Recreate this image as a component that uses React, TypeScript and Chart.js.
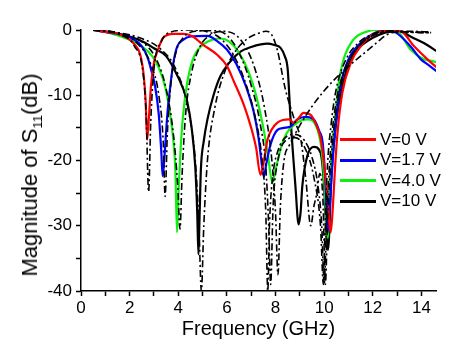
import React, { useEffect, useRef } from 'react';
import { Chart, registerables } from 'chart.js';

Chart.register(...registerables);

// ---- Measured curves ----
const freqRed = [0.5, 1.0, 1.6, 2.2, 2.45, 2.58, 2.66, 2.72, 2.8, 2.88, 3.0, 3.13, 3.38, 3.8, 4.2, 4.6, 5.0, 5.6, 6.0, 6.3, 6.7, 7.0, 7.2, 7.38, 7.5, 7.67, 7.85, 8.08, 8.3, 8.55, 8.75, 8.95, 9.15, 9.45, 9.7, 9.85, 9.98, 10.12, 10.27, 10.36, 10.45, 10.55, 10.75, 11.1, 11.5, 12.0, 12.6, 13.15, 13.7, 14.25, 14.65];
const s11Red = [0, -0.3, -0.7, -2.2, -4, -7, -11, -16.8, -13, -8.5, -5, -3.4, -1.2, -0.6, -0.6, -1.0, -2.2, -3.8, -5.5, -8, -11.5, -15, -18, -22.2, -20.5, -16.8, -15.2, -14.2, -13.8, -13.7, -14.2, -13.5, -12.7, -13, -14.8, -16.5, -19.9, -25, -31, -27, -21, -15.7, -9.6, -5, -2.5, -0.7, -0.1, -0.2, -2.5, -4.5, -5.8];

const freqBlue = [0.5, 1.2, 2.0, 2.5, 2.72, 2.9, 3.05, 3.2, 3.3, 3.36, 3.44, 3.55, 3.67, 3.8, 3.96, 4.2, 4.5, 5.2, 5.6, 6.0, 6.4, 6.8, 7.1, 7.3, 7.45, 7.52, 7.62, 7.8, 8.08, 8.35, 8.62, 8.9, 9.24, 9.57, 9.8, 9.94, 10.05, 10.15, 10.25, 10.35, 10.5, 10.7, 11.0, 11.5, 12.0, 12.5, 12.95, 13.55, 13.98, 14.27, 14.65];
const s11Blue = [0, -0.4, -1.1, -2.5, -4, -6.3, -8.7, -13, -18.5, -22.4, -19, -13, -8.7, -5, -2.5, -1.5, -1.0, -0.9, -1.7, -3, -5.3, -8.8, -12.5, -16.5, -21, -22.5, -20.5, -17.5, -15.3, -15, -14.8, -13.7, -13.3, -13.7, -15.5, -17.3, -23, -31, -26, -20, -13.5, -8, -4.5, -2, -0.6, -0.1, -0.4, -2.5, -4.5, -5.3, -6.4];

const freqGreen = [0.5, 1.2, 2.0, 2.5, 2.93, 3.2, 3.46, 3.65, 3.8, 3.88, 3.95, 4.02, 4.1, 4.2, 4.35, 4.6, 5.0, 5.4, 5.73, 6.1, 6.5, 6.9, 7.2, 7.5, 7.7, 7.87, 8.0, 8.33, 8.9, 9.32, 9.73, 9.9, 10.02, 10.14, 10.25, 10.4, 10.6, 10.8, 11.2, 11.8, 12.2, 13.0, 13.55, 14.1, 14.5, 14.65];
const s11Green = [0, -0.5, -1.5, -2.5, -4, -5.8, -8.7, -12.5, -17, -21.4, -31, -24, -18, -13, -8.5, -4.5, -2.3, -1.5, -1.3, -1.8, -3.5, -6.5, -10, -15, -19.5, -23.4, -21.4, -16.8, -14.2, -13.7, -15.3, -18.5, -24, -32, -23, -15.7, -8.1, -4.5, -1.5, -0.2, 0, -0.2, -3, -4.5, -4.8, -5];

const freqBlack = [0.5, 1.3, 2.0, 2.55, 3.0, 3.5, 3.9, 4.2, 4.37, 4.55, 4.7, 4.78, 4.83, 4.88, 4.93, 5.05, 5.2, 5.45, 5.73, 6.1, 6.56, 7.0, 7.4, 7.67, 7.95, 8.2, 8.38, 8.5, 8.62, 8.72, 8.82, 8.95, 9.03, 9.1, 9.3, 9.57, 9.85, 10.0, 10.08, 10.16, 10.3, 10.5, 10.75, 11.1, 11.5, 12.0, 12.5, 13.15, 13.55, 14.1, 14.65];
const s11Black = [0, -0.4, -1.0, -1.8, -2.8, -4, -6.5, -9, -11, -15, -21, -28, -34.4, -28, -21.4, -17, -13.7, -10, -7.1, -5, -3.3, -2.6, -2.2, -2.1, -2.3, -2.7, -4, -6, -13.7, -19, -24, -29.8, -28, -24, -19.4, -17.9, -18.8, -24, -30, -33.7, -22, -14, -8.5, -4.5, -2.5, -1.2, -0.4, -0.2, -1.0, -2.0, -3.3];

// ---- Simulated curves (dash-dot) ----
const freqSimA = [0.5, 1.5, 2.2, 2.55, 2.68, 2.78, 2.87, 3.0, 3.3, 3.7, 4.5, 5.3, 5.8, 6.3, 6.8, 7.2, 7.45, 7.6, 7.68, 7.76, 7.9, 8.1, 8.4, 8.8, 9.2, 9.5, 9.75, 9.9, 10.0, 10.1, 10.25, 10.45, 10.8, 11.3, 11.9, 12.5, 13.2, 14.0, 14.4];
const s11SimA = [0, -0.6, -2.5, -6.5, -13, -24.8, -14, -6, -1.8, -0.3, 0, -0.4, -1.5, -4, -8.5, -14, -20, -28, -40, -29, -22, -18.5, -16.5, -16, -17, -19.5, -24, -30, -39, -29, -19, -12, -6.5, -3, -1, -0.2, -0.3, -0.4, -0.4];

const freqSimB = [0.5, 1.5, 2.3, 2.9, 3.2, 3.38, 3.46, 3.55, 3.7, 3.9, 4.2, 4.7, 5.5, 6.0, 6.5, 7.0, 7.35, 7.6, 7.72, 7.8, 7.9, 8.1, 8.4, 8.8, 9.2, 9.6, 9.85, 9.97, 10.03, 10.12, 10.3, 10.5, 10.9, 11.4, 12.0, 12.6, 13.4, 14.4];
const s11SimB = [0, -0.5, -2, -5.5, -10, -17, -25.5, -16, -8, -3.5, -1.2, -0.2, -0.1, -0.8, -3.5, -8.5, -14, -21, -30, -39, -27, -20, -17, -16.5, -18, -23, -30, -39, -32, -22, -14, -9, -4.5, -2, -0.6, -0.1, -0.3, -0.4];

const freqSimC = [0.5, 1.5, 2.5, 3.1, 3.5, 3.8, 3.98, 4.07, 4.16, 4.3, 4.55, 4.9, 5.3, 5.8, 6.3, 6.8, 7.2, 7.55, 7.85, 8.0, 8.1, 8.2, 8.35, 8.55, 12.3, 12.8, 13.5, 14.4];
const s11SimC = [0, -0.4, -1.8, -4.5, -9, -16, -24, -30.5, -22, -13, -6.5, -2.5, -0.8, -0.2, -0.6, -2.8, -6.5, -12, -20, -28, -37.5, -27, -20, -17.8, -1.5, -0.4, -0.2, -0.3];

const freqSimD = [0.5, 1.5, 2.5, 3.3, 3.9, 4.4, 4.7, 4.85, 4.95, 5.05, 5.2, 5.5, 5.9, 6.4, 6.9, 7.3, 7.6, 7.8, 8.07, 8.4, 8.8, 9.05, 9.25, 9.45, 9.58, 9.7, 9.82, 9.95, 10.05, 10.15, 10.35, 10.6, 11.0, 11.5, 12.1, 12.7, 13.4, 14.4];
const s11SimD = [0, -0.4, -1.3, -3, -6, -12, -20, -30, -40, -30, -20, -12, -6.5, -3, -1.2, -0.5, -0.2, -0.5, -3, -9, -14, -17, -23, -30, -27, -25, -22, -26, -39, -28, -17, -10, -5, -2.2, -0.7, -0.2, -0.3, -0.4];

// ---- Labels / legend ----
const legendLabels = ['V=0 V', 'V=1.7 V', 'V=4.0 V', 'V=10 V'];
const legendColors = ['#ff0000', '#0000ff', '#11ee11', '#000000'];
const xTitle = 'Frequency (GHz)';
const xMin = 0, xMax = 14.6, yMin = -40, yMax = 0;

const FONT = "'Liberation Sans', Arial, Helvetica, sans-serif";

const pts = (xs: number[], ys: number[]) => xs.map((x, i) => ({ x, y: ys[i] }));

export default function App() {
  const ref = useRef<HTMLCanvasElement>(null);
  useEffect(() => {
    const solid = (data: any, color: string) => ({
      data, borderColor: color, borderWidth: 2.2, pointRadius: 0, fill: false,
      cubicInterpolationMode: 'monotone' as const,
    });
    const dd = (data: any) => ({
      data, borderColor: '#000', borderWidth: 1.6, borderDash: [7, 3, 2, 3], pointRadius: 0, fill: false,
      cubicInterpolationMode: 'monotone' as const,
    });
    const chart = new Chart(ref.current!, {
      type: 'line',
      data: {
        datasets: [
          dd(pts(freqSimA, s11SimA)),
          dd(pts(freqSimB, s11SimB)),
          dd(pts(freqSimC, s11SimC)),
          dd(pts(freqSimD, s11SimD)),
          solid(pts(freqRed, s11Red), legendColors[0]),
          solid(pts(freqBlue, s11Blue), legendColors[1]),
          solid(pts(freqGreen, s11Green), legendColors[2]),
          solid(pts(freqBlack, s11Black), legendColors[3]),
        ] as any,
      },
      options: {
        animation: false,
        responsive: false,
        layout: { padding: { left: 0, right: 38, top: 30, bottom: 0 } },
        plugins: { legend: { display: false }, tooltip: { enabled: false } },
        scales: {
          x: {
            type: 'linear', min: xMin, max: xMax,
            afterFit: (s: any) => { s.height = 57; },
            ticks: {
              stepSize: 1, autoSkip: false, includeBounds: false, maxRotation: 0, padding: 2,
              color: '#000', font: { family: FONT, size: 17 },
              callback: (v: any) => (Math.round(v) % 2 === 0 ? String(v) : ''),
            },
            grid: { drawOnChartArea: false, tickLength: 5, tickColor: '#000', tickWidth: 1.5 },
            border: { display: true, color: '#000', width: 1.5 },
            title: {
              display: true, text: xTitle, color: '#000',
              font: { family: FONT, size: 20 }, padding: { top: 0, bottom: 7 },
            },
          },
          y: {
            type: 'linear', min: yMin, max: yMax,
            afterFit: (s: any) => { s.width = 81; },
            ticks: {
              stepSize: 5, autoSkip: false, includeBounds: false, padding: 4,
              color: '#000', font: { family: FONT, size: 17 },
              callback: (v: any) => (Math.round(v) % 10 === 0 ? String(v) : ''),
            },
            grid: { drawOnChartArea: false, tickLength: 5, tickColor: '#000', tickWidth: 1.5 },
            border: { display: true, color: '#000', width: 1.5 },
          },
        },
      } as any,
    });
    return () => chart.destroy();
  }, []);

  return (
    <div style={{ position: 'absolute', left: 0, top: 0, width: 474, height: 348, background: '#fff', fontFamily: FONT }}>
      <canvas ref={ref} width={474} height={348} style={{ display: 'block', width: 474, height: 348 }} />
      <div
        style={{
          position: 'absolute', left: 30.4, top: 175, transform: 'translate(-50%, -50%) rotate(-90deg)',
          whiteSpace: 'nowrap', fontSize: 22, lineHeight: '26px', color: '#000',
        }}
      >
        Magnitude of S<sub style={{ fontSize: 13, lineHeight: 0 }}>11</sub>(dB)
      </div>
      <div style={{ position: 'absolute', left: 340, top: 129.5 }}>
        {legendLabels.map((lab, i) => (
          <div key={lab} style={{ display: 'flex', alignItems: 'center', height: 20.5 }}>
            <div style={{ width: 36, height: 3, background: legendColors[i], marginRight: 4 }} />
            <span style={{ fontSize: 17, lineHeight: '20px', color: '#000', whiteSpace: 'nowrap' }}>{lab}</span>
          </div>
        ))}
      </div>
    </div>
  );
}
